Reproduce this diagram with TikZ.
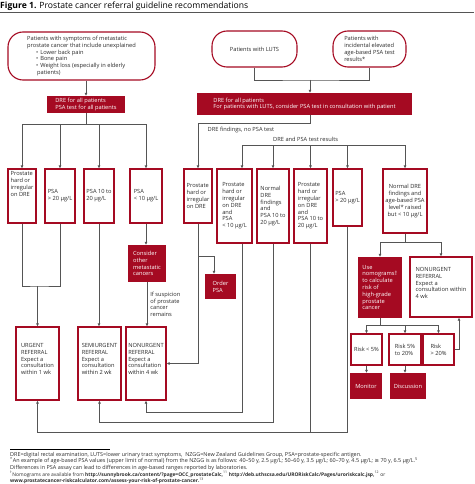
\documentclass[tikz,border=0pt]{standalone}
\usepackage{fontspec}
\setmainfont{Open Sans}
\newfontfamily\djv{DejaVu Sans}
\usetikzlibrary{arrows.meta}
\definecolor{crim}{HTML}{A50A22}
\definecolor{lnk}{HTML}{555555}
\definecolor{txt}{HTML}{2B2B2B}
\newcommand\bfs{\fontsize{5.7}{6.8}\selectfont}
\newcommand\ups[1]{\rule[-#1]{0pt}{0pt}}
\begin{document}
\begin{tikzpicture}[x=1pt,y=-1pt,
  sz/.style 2 args={minimum width=#1pt,minimum height=#2pt},
  box/.style={draw=crim, line width=1.1pt, fill=white, text=txt, font=\bfs, align=left, inner sep=0pt},
  stad/.style={box, rounded corners=15pt},
  rbox/.style={fill=crim, text=white, font=\bfs, align=left, inner sep=0pt},
  conn/.style={draw=lnk, line width=0.8pt},
  arr/.style={conn, -{Latex[length=3pt,width=3pt]}},
  lbl/.style={text=txt, font=\bfs, align=left, inner sep=0pt},
  fn/.style={text=txt, font=\fontsize{5.45}{6.7}\selectfont, anchor=base west, inner sep=0pt},
  fnb/.style={fn, font=\fontsize{4.95}{6.7}\selectfont}]
\useasboundingbox (0,0) rectangle (474,484);

% title
\node[anchor=base west, inner sep=0pt, font=\fontsize{8.6}{10}\selectfont, text=black] (title) at (0,8.6) {\textbf{Figure 1.} Prostate cancer referral guideline recommendations};
\draw[line width=0.7pt, lnk] (0,12.3) -- (474,12.3);

% ---------- left branch ----------
\node[stad, sz={147}{48}] (meta) at (81.5,56) {Patients with symptoms of metastatic\\prostate cancer that include unexplained\\\hspace{9pt}•\hspace{2pt}Lower back pain\\\hspace{9pt}•\hspace{2pt}Bone pain\\\hspace{9pt}•\hspace{2pt}Weight loss (especially in elderly\\\hspace{10pt}patients)};
\node[rbox, sz={78}{17}] (dre1) at (86,104.5) {DRE for all patients\\PSA test for all patients};
\draw[arr] (meta.south -| dre1.north) -- (dre1.north);

\coordinate (j1) at (86,124);
\node[box, sz={28}{54}] (b1) at (22,196) {Prostate\\hard or\\irregular\\on DRE\ups{24pt}};
\node[box, sz={30}{54}] (b2) at (60,196) {PSA\\> 20~µg/L};
\node[box, sz={30}{54}] (b3) at (99,196) {PSA 10 to\\20 µg/L};
\node[box, sz={32}{54}] (b4) at (146,196) {PSA\\< 10 µg/L};
\draw[conn] (dre1.south) -- (j1);
\draw[conn] (b1.north |- j1) -- (b4.north |- j1);
\foreach \n in {b1,b2,b3,b4} \draw[arr] (\n.north |- j1) -- (\n.north);

\node[rbox, sz={38}{37}] (cons) at (147,263.5) {Consider\\other\\metastatic\\cancers};
\draw[arr] (b4.south) -- (b4.south |- cons.north);

\node[box, sz={43}{73}] (urg) at (37.5,363.5) {URGENT\\REFERRAL\\Expect a\\consultation\\within 1 wk\ups{9pt}};
\node[box, sz={43}{73}] (semi) at (99.5,363.5) {SEMIURGENT\\REFERRAL\\Expect a\\consultation\\within 2 wk\ups{9pt}};
\node[box, sz={40}{73}] (non1) at (146,363.5) {NONURGENT\\REFERRAL\\Expect a\\consultation\\within 4 wk\ups{9pt}};

\coordinate (j2) at (37.5,286);
\draw[conn] (b1.south) |- (j2) -| (b2.south);
\draw[arr] (j2) -- (urg.north);
\draw[arr] (b3.south) -- (b3.south |- semi.north);
\draw[arr] (cons.south) -- node[lbl, right=3pt] (lsus) {If suspicion\\of prostate\\cancer\\remains} (cons.south |- non1.north);

% ---------- right branch ----------
\node[stad, sz={85}{36}] (luts) at (254.5,49) {Patients with LUTS};
\node[stad, sz={73}{36}] (inc) at (369.5,49) {Patients with\\incidental elevated\\age-based PSA test\\results*};
\node[rbox, sz={215}{22}] (dre2) at (304.5,104) {DRE for all patients\\For patients with LUTS, consider PSA test in consultation with patient};
\coordinate (j3) at (310,80);
\draw[conn] (luts.south) |- (j3) -| (inc.south);
\draw[arr] (j3) -- (j3 |- dre2.north);

\coordinate (j4) at (310,123.5);
\node[box, sz={28}{54}] (pr) at (198,196) {Prostate\\hard or\\irregular\\on DRE};
\draw[arr] (j4 |- dre2.south) -- (j4) -| (pr.north);
\node[lbl, anchor=north west] (lno) at (207.5,126.5) {DRE findings, no PSA test};

\node[box, sz={35}{74}] (b5) at (234.5,206) {Prostate\\hard or\\irregular\\on DRE\\and\\PSA\\< 10 µg/L};
\node[box, sz={32}{74}] (b6) at (273,206) {Normal\\DRE\\findings\\and\\PSA 10 to\\20 µg/L};
\node[box, sz={33}{74}] (b7) at (310.5,206) {Prostate\\hard or\\irregular\\on DRE\\and\\PSA 10 to\\20 µg/L};
\node[box, sz={29}{57}] (b8) at (347.5,197.5) {PSA\\> 20 µg/L};
\node[box, sz={44}{64}, align=center] (b9) at (405,201) {Normal DRE\\findings and\\age-based PSA\\level* raised\\but < 10 µg/L};

\coordinate (j5) at (242,145);
\coordinate (j6) at (b9.north |- j5);
\draw[conn] (j5) -- (j6);
\node[lbl, anchor=north west] (lpsa) at (273,136.5) {DRE and PSA test results};
\draw[arr] (j5) -- (j5 |- b5.north);
\foreach \n in {b6,b7,b8} \draw[arr] (\n.north |- j5) -- (\n.north);
\draw[arr] (j6) -- (b9.north);

% prostate hard (no PSA)
\node[rbox, sz={31}{25}] (ord) at (220.5,286.5) {Order\\PSA};
\coordinate (k4) at (198,256);
\draw[arr] (pr.south) -- (pr.south |- non1.east) -- (non1.east);
\draw[arr] (k4) -| ([xshift=-6.5pt]ord.north);

% nomogram column
\node[rbox, sz={44}{61}] (nomo) at (380,287.5) {Use\\nomograms†\\to calculate\\risk of\\high-grade\\prostate\\cancer};
\node[box, sz={62}{60}] (non2) at (441,287) {NONURGENT\\REFERRAL\\Expect a\\consultation within\\4 wk\ups{8pt}};
\coordinate (j7) at (405,242);
\draw[conn] (b9.south) -- (j7);
\draw[arr] (j7) -| (nomo.north);
\draw[arr] (j7) -| (non2.north);

\node[box, sz={31}{31}] (r1) at (366.5,349.5) {Risk < 5\%};
\node[box, sz={32}{31}] (r2) at (405,349.5) {Risk 5\%\\to 20\%};
\node[box, sz={31}{31}] (r3) at (438.5,349.5) {Risk\\> 20\%};
\coordinate (j8) at (380,325);
\draw[conn] (nomo.south) -- (j8);
\draw[conn] (r1.north |- j8) -- (r3.north |- j8);
\foreach \n in {r1,r2,r3} \draw[arr] (\n.north |- j8) -- (\n.north);
\coordinate (j9) at (459,349.5);
\draw[arr] (r3.east) -- (j9) -- (j9 |- non2.south);

\node[rbox, sz={32}{26}, align=center] (mon) at (366,386) {Monitor};
\node[rbox, sz={36}{26}, align=center] (disc) at (408,386) {Discussion};
\draw[arr] (r1.south) -- (r1.south |- mon.north);
\draw[arr] (r2.south) -- (r2.south |- disc.north);

% bottom loops
\coordinate (k5) at (242,412);
\draw[arr] (j5 |- b5.south) -- (k5) -| (non1.south);
\coordinate (k6) at (273,422);
\draw[arr] (b6.south) -- (b6.south |- k6) -| (semi.south);
\coordinate (k7) at (310.5,432);
\draw[conn] (b8.south) |- (k7);
\draw[arr] (b7.south) -- (k7) -| (urg.south);

% footnotes
\draw[line width=0.5pt, black] (10,449) -- (110,449);
\node[fn] (f1) at (10,456) {DRE=digital rectal examination, LUTS=lower urinary tract symptoms,\ \ NZGG=New Zealand Guidelines Group, PSA=prostate-specific antigen.};
\node[fn] (f2) at (10,462.7) {\textsuperscript{*}An example of age-based PSA values (upper limit of normal) from the NZGG is as follows: 40–50 y, 2.5 µg/L; 50–60 y, 3.5 µg/L; 60–70 y, 4.5 µg/L; {\djv ≥} 70 y, 6.5 µg/L.\textsuperscript{5}};
\node[fn] (f3) at (10,469.4) {Differences in PSA assay can lead to differences in age-based ranges reported by laboratories.};
\node[fnb] (f4) at (10,476) {\textsuperscript{†}Nomograms are available from \textbf{http://sunnybrook.ca/content/?page=OCC\_prostateCalc,}\textsuperscript{11} \textbf{http://deb.uthscsa.edu/URORiskCalc/Pages/uroriskcalc.jsp,}\textsuperscript{12} or};
\node[fnb] (f5) at (10,482.7) {\textbf{www.prostatecancer-riskcalculator.com/assess-your-risk-of-prostate-cancer.}\textsuperscript{13}};
\end{tikzpicture}
\end{document}
